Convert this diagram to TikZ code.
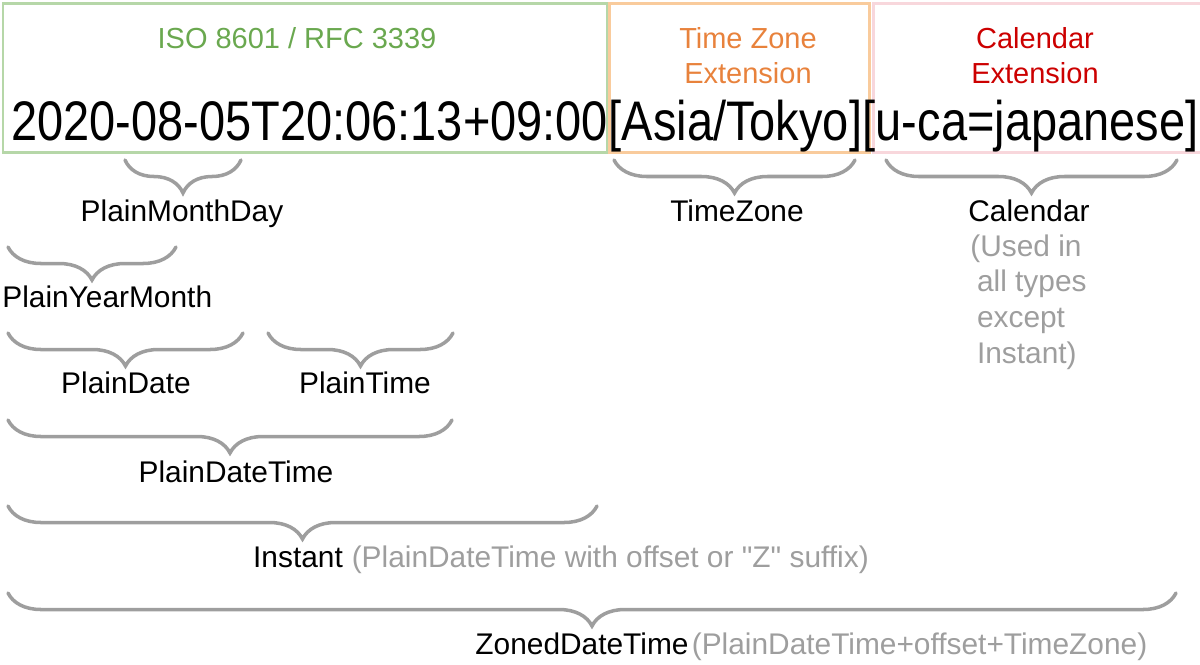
\documentclass[tikz,border=0pt]{standalone}
\usepackage{fontspec}
\setmainfont{Liberation Sans}[Ligatures=TeXOff]
\newfontfamily\stampfont{Liberation Sans}[FakeStretch=0.842]
\usetikzlibrary{decorations.pathreplacing}
\definecolor{isogreen}{HTML}{6AA84F}
\definecolor{isoframe}{HTML}{B6D7A8}
\definecolor{tzorange}{HTML}{E8823C}
\definecolor{tzframe}{HTML}{F9CB9C}
\definecolor{calred}{HTML}{CC0000}
\definecolor{calframe}{HTML}{F8D7DC}
\definecolor{bracegray}{HTML}{9E9E9E}
\begin{document}
\begin{tikzpicture}[x=0.02cm,y=-0.02cm,
    lbl/.style={inner sep=0pt,anchor=base,font=\fontsize{17}{20.4}\selectfont},
    note/.style={lbl,text=bracegray},
    head/.style={inner sep=0pt,anchor=north,align=center,font=\fontsize{16.5}{19.8}\selectfont},
    stamp/.style={inner sep=0pt,anchor=base west,font=\stampfont\fontsize{31.75}{36}\selectfont},
    brc/.style={draw=bracegray,line width=2pt,line cap=round,decorate,
      decoration={brace,mirror,amplitude=0.66cm}}]
  \useasboundingbox (0,0) rectangle (1200,664);
  \draw[isoframe,line width=1.7pt] (3,3) rectangle (607,152);
  \draw[tzframe,line width=1.7pt] (609,3) rectangle (869,152);
  \draw[calframe,line width=1.7pt] (873,3) rectangle (1204,152);
  \node[head,text=isogreen] (isohead) at (297,27) {ISO 8601 / RFC 3339};
  \node[head,text=tzorange] (tzhead) at (748,27) {Time Zone\\Extension};
  \node[head,text=calred] (calhead) at (1035,27) {Calendar\\Extension};
  \node[stamp] (isostr) at (11,140) {2020-08-05T20:06:13+09:00};
  \node[stamp] (tzstr) at (isostr.base east) {[Asia/Tokyo]};
  \node[stamp] (calstr) at (tzstr.base east) {[u-ca=japanese]};
  \draw[brc] (125,160) -- (241,160);
  \draw[brc] (614,160) -- (855,160);
  \draw[brc] (886,160) -- (1177,160);
  \draw[brc] (8,247) -- (176,247);
  \draw[brc] (8,333) -- (243,333);
  \draw[brc] (268,333) -- (453,333);
  \draw[brc] (8,420) -- (452,420);
  \draw[brc] (8,506) -- (597,506);
  \draw[brc] (8,593) -- (1176,593);
  \node[lbl] (monthday) at (182,221) {PlainMonthDay};
  \node[lbl] (timezone) at (737,221) {TimeZone};
  \node[lbl] (calendar) at (1029,221) {Calendar};
  \node[note,anchor=north west,align=left] (calnote) at (970,234)
    {(Used in\\\hspace{3.8pt}all types\\\hspace{3.8pt}except\\\hspace{3.8pt}Instant)};
  \node[lbl,anchor=base west] (yearmonth) at (2,307) {PlainYearMonth};
  \node[lbl] (date) at (126,393) {PlainDate};
  \node[lbl] (time) at (365,393) {PlainTime};
  \node[lbl] (datetime) at (236,482) {PlainDateTime};
  \node[lbl] (instant) at (298,567) {Instant};
  \node[note,anchor=base west] (instnote) at ([xshift=4.7pt]instant.base east)
    {(PlainDateTime with offset or "Z" suffix)};
  \node[lbl] (zoned) at (582,654) {ZonedDateTime};
  \node[note,anchor=base west] (zonednote) at ([xshift=1.5pt]zoned.base east)
    {(PlainDateTime+offset+TimeZone)};
\end{tikzpicture}
\end{document}
